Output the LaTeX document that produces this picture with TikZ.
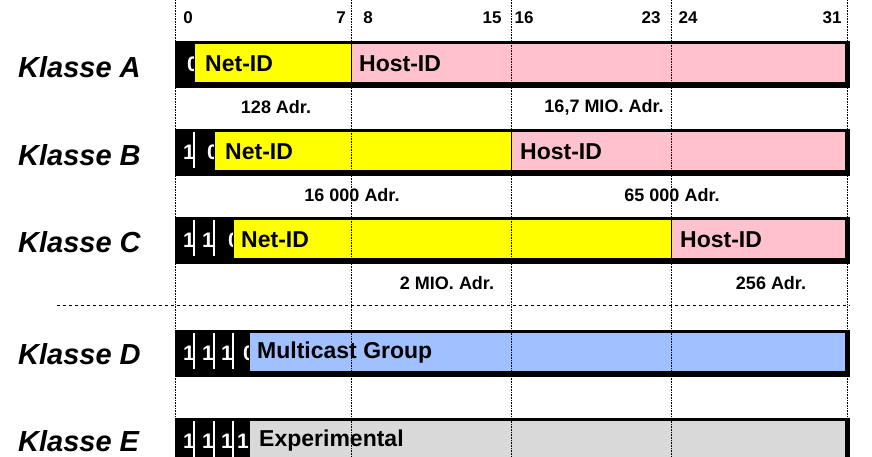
\documentclass[tikz,border=0pt]{standalone}
\usepackage{fontspec}
\setmainfont{Liberation Sans}
\usetikzlibrary{positioning}
\definecolor{netid}{RGB}{255,255,0}
\definecolor{hostid}{RGB}{255,194,204}
\definecolor{multicast}{RGB}{160,192,255}
\definecolor{experimental}{RGB}{217,217,217}

\begin{document}
\begin{tikzpicture}[
            x = 1pt, y = -1pt,
            klasse/.style = {
                font = \fontsize{29}{31}\selectfont\bfseries\itshape,
                anchor = west,
                inner sep = 0pt
            },
            feld/.style = {
                draw = black,
                line width = 0.6pt
            },
            feldtext/.style = {
                font = \fontsize{23}{25}\selectfont\bfseries,
                anchor = west,
                inner sep = 0pt
            },
            bit/.style = {
                font = \fontsize{21}{23}\selectfont\bfseries,
                text = white,
                inner sep = 0pt
            },
            bitnr/.style = {font = \fontsize{17}{19}\selectfont\bfseries},
            adr/.style = {font = \fontsize{18}{20}\selectfont\bfseries},
            raster/.style = {densely dotted, line width = 0.6pt}
            ]
            \useasboundingbox (0,0) rectangle (872,457);

            % black bars with shadow
            \foreach \t in {41,129,217,330,418}
                \fill[black] (175,\t) rectangle (850,\t+47);

            % bit cells
            \foreach \x in {194}
                \draw[white, line width = 1.5pt] (\x,132) -- (\x,168);
            \foreach \x in {194,214}
                \draw[white, line width = 1.5pt] (\x,220) -- (\x,256);
            \foreach \x in {194,214,233}
                \draw[white, line width = 1.5pt] (\x,333) -- (\x,369);
            \foreach \x in {194,214,233}
                \draw[white, line width = 1.5pt] (\x,421) -- (\x,457);

            \node[bit] (a0) at (193,64) {0};
            \node[bit] (b0) at (189,152) {1};
            \node[bit] (b1) at (213,152) {0};
            \node[bit] (c0) at (189,240) {1};
            \node[bit] (c1) at (208,240) {1};
            \node[bit] (c2) at (234,240) {0};
            \node[bit] (d0) at (189,353) {1};
            \node[bit] (d1) at (208,353) {1};
            \node[bit] (d2) at (227,353) {1};
            \node[bit] (d3) at (249,353) {0};
            \node[bit] (e0) at (189,441) {1};
            \node[bit] (e1) at (208,441) {1};
            \node[bit] (e2) at (227,441) {1};
            \node[bit] (e3) at (243,441) {1};

            % fields
            \filldraw[feld, fill=netid] (194,43) rectangle (351,82);
            \filldraw[feld, fill=hostid] (351,43) rectangle (845,82);
            \filldraw[feld, fill=netid] (214,131) rectangle (511,170);
            \filldraw[feld, fill=hostid] (511,131) rectangle (845,170);
            \filldraw[feld, fill=netid] (233,219) rectangle (671,258);
            \filldraw[feld, fill=hostid] (671,219) rectangle (845,258);
            \filldraw[feld, fill=multicast] (249,332) rectangle (845,371);
            \filldraw[feld, fill=experimental] (249,420) rectangle (845,459);

            \node[feldtext] (netA) at (205,64) {Net-ID};
            \node[feldtext] (hostA) at (359,64) {Host-ID};
            \node[feldtext] (netB) at (225,152) {Net-ID};
            \node[feldtext] (hostB) at (520,152) {Host-ID};
            \node[feldtext] (netC) at (241,240) {Net-ID};
            \node[feldtext] (hostC) at (680,240) {Host-ID};
            \node[feldtext] (mcD) at (257,353) {Multicast Group};
            \node[feldtext] (expE) at (259,441) {Experimental};

            % grid
            \foreach \x in {175,351,511,671,847}
                \draw[raster] (\x,0) -- (\x,457);
            \draw[dashed, line width = 0.6pt] (57,305) -- (850,305);

            % bit numbers
            \node[bitnr] (n0) at (188,18) {0};
            \node[bitnr] (n7) at (341,18) {7};
            \node[bitnr] (n8) at (368,18) {8};
            \node[bitnr] (n15) at (492,18) {15};
            \node[bitnr] (n16) at (524,18) {16};
            \node[bitnr] (n23) at (651,18) {23};
            \node[bitnr] (n24) at (688,18) {24};
            \node[bitnr] (n31) at (832,18) {31};

            % classes
            \node[klasse] (kA) at (18,67) {Klasse A};
            \node[klasse] (kB) at (18,155) {Klasse B};
            \node[klasse] (kC) at (18,242) {Klasse C};
            \node[klasse] (kD) at (18,354) {Klasse D};
            \node[klasse] (kE) at (18,441) {Klasse E};

            % addresses
            \node[adr] (adrA1) at (276,107) {128 Adr.};
            \node[adr] (adrA2) at (604,107) {16,7 MIO. Adr.};
            \node[adr] (adrB1) at (352,195) {16 000 Adr.};
            \node[adr] (adrB2) at (672,195) {65 000 Adr.};
            \node[adr] (adrC1) at (447,283) {2 MIO. Adr.};
            \node[adr] (adrC2) at (771,283) {256 Adr.};
        \end{tikzpicture}
\end{document}
